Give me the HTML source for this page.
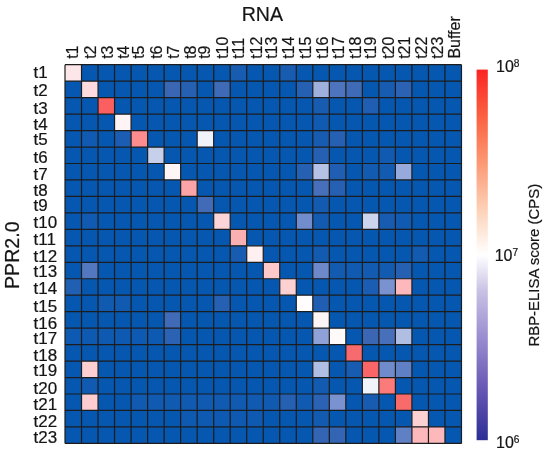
<!DOCTYPE html>
<html><head><meta charset="utf-8"><style>
html,body{margin:0;padding:0;background:#fff;width:550px;height:455px;overflow:hidden}
svg{display:block}
text{font-family:"Liberation Sans",Arial,Helvetica,sans-serif;fill:#151515;stroke:#151515;stroke-width:0.2px}
</style></head><body>
<svg width="550" height="455" viewBox="0 0 550 455">
<defs>
<linearGradient id="cb" x1="0" y1="1" x2="0" y2="0">
<stop offset="0" stop-color="#2c2e95"/>
<stop offset="0.15" stop-color="#6c5cb6"/>
<stop offset="0.28" stop-color="#9c8ed0"/>
<stop offset="0.4" stop-color="#c8c0e4"/>
<stop offset="0.5" stop-color="#ffffff"/>
<stop offset="0.62" stop-color="#fdd2b8"/>
<stop offset="0.74" stop-color="#fc9c78"/>
<stop offset="0.87" stop-color="#fb6242"/>
<stop offset="1" stop-color="#fb2424"/>
</linearGradient>
</defs>

<rect x="65.0" y="64.7" width="396.48" height="378.69" fill="#0657b0"/>
<rect x="230.20" y="64.70" width="16.52" height="16.46" fill="#175cb1"/>
<rect x="279.76" y="64.70" width="16.52" height="16.46" fill="#175cb1"/>
<rect x="65.00" y="64.70" width="16.52" height="16.46" fill="#fde6e9"/>
<rect x="164.12" y="81.17" width="16.52" height="16.46" fill="#3a66b4"/>
<rect x="180.64" y="81.17" width="16.52" height="16.46" fill="#2560b2"/>
<rect x="213.68" y="81.17" width="16.52" height="16.46" fill="#3f6ab6"/>
<rect x="296.28" y="81.17" width="16.52" height="16.46" fill="#2560b2"/>
<rect x="312.80" y="81.17" width="16.52" height="16.46" fill="#9fb0dd"/>
<rect x="329.32" y="81.17" width="16.52" height="16.46" fill="#4e74bd"/>
<rect x="345.84" y="81.17" width="16.52" height="16.46" fill="#3f6ab6"/>
<rect x="378.88" y="81.17" width="16.52" height="16.46" fill="#175cb1"/>
<rect x="395.40" y="81.17" width="16.52" height="16.46" fill="#2b62b3"/>
<rect x="81.52" y="81.17" width="16.52" height="16.46" fill="#fddadd"/>
<rect x="312.80" y="97.63" width="16.52" height="16.46" fill="#175cb1"/>
<rect x="362.36" y="97.63" width="16.52" height="16.46" fill="#1f5eb2"/>
<rect x="98.04" y="97.63" width="16.52" height="16.46" fill="#fc5f5f"/>
<rect x="312.80" y="114.09" width="16.52" height="16.46" fill="#105ab1"/>
<rect x="114.56" y="114.09" width="16.52" height="16.46" fill="#fef3f5"/>
<rect x="81.52" y="130.56" width="16.52" height="16.46" fill="#105ab1"/>
<rect x="114.56" y="130.56" width="16.52" height="16.46" fill="#1b5db2"/>
<rect x="197.16" y="130.56" width="16.52" height="16.46" fill="#f1f3fa"/>
<rect x="312.80" y="130.56" width="16.52" height="16.46" fill="#175cb1"/>
<rect x="329.32" y="130.56" width="16.52" height="16.46" fill="#2560b2"/>
<rect x="131.08" y="130.56" width="16.52" height="16.46" fill="#fc8c8e"/>
<rect x="147.60" y="147.03" width="16.52" height="16.46" fill="#c6d0eb"/>
<rect x="312.80" y="147.03" width="16.52" height="16.46" fill="#2560b2"/>
<rect x="378.88" y="147.03" width="16.52" height="16.46" fill="#105ab1"/>
<rect x="296.28" y="163.49" width="16.52" height="16.46" fill="#2560b2"/>
<rect x="312.80" y="163.49" width="16.52" height="16.46" fill="#b6c2e5"/>
<rect x="329.32" y="163.49" width="16.52" height="16.46" fill="#1f5eb2"/>
<rect x="362.36" y="163.49" width="16.52" height="16.46" fill="#125bb1"/>
<rect x="378.88" y="163.49" width="16.52" height="16.46" fill="#125bb1"/>
<rect x="395.40" y="163.49" width="16.52" height="16.46" fill="#98aadb"/>
<rect x="164.12" y="163.49" width="16.52" height="16.46" fill="#fef5f7"/>
<rect x="312.80" y="179.95" width="16.52" height="16.46" fill="#476fba"/>
<rect x="329.32" y="179.95" width="16.52" height="16.46" fill="#2560b2"/>
<rect x="180.64" y="179.95" width="16.52" height="16.46" fill="#fca5a8"/>
<rect x="197.16" y="196.42" width="16.52" height="16.46" fill="#426bb7"/>
<rect x="312.80" y="196.42" width="16.52" height="16.46" fill="#125bb1"/>
<rect x="81.52" y="212.88" width="16.52" height="16.46" fill="#105ab1"/>
<rect x="296.28" y="212.88" width="16.52" height="16.46" fill="#728dcd"/>
<rect x="312.80" y="212.88" width="16.52" height="16.46" fill="#125bb1"/>
<rect x="362.36" y="212.88" width="16.52" height="16.46" fill="#ccd5ed"/>
<rect x="378.88" y="212.88" width="16.52" height="16.46" fill="#175cb1"/>
<rect x="395.40" y="212.88" width="16.52" height="16.46" fill="#105ab1"/>
<rect x="213.68" y="212.88" width="16.52" height="16.46" fill="#fdd5d8"/>
<rect x="230.20" y="229.35" width="16.52" height="16.46" fill="#f9b0b0"/>
<rect x="230.20" y="245.81" width="16.52" height="16.46" fill="#175cb1"/>
<rect x="312.80" y="245.81" width="16.52" height="16.46" fill="#125bb1"/>
<rect x="411.92" y="245.81" width="16.52" height="16.46" fill="#125bb1"/>
<rect x="246.72" y="245.81" width="16.52" height="16.46" fill="#fef0f0"/>
<rect x="81.52" y="262.28" width="16.52" height="16.46" fill="#5478bf"/>
<rect x="312.80" y="262.28" width="16.52" height="16.46" fill="#6d89ca"/>
<rect x="395.40" y="262.28" width="16.52" height="16.46" fill="#2560b2"/>
<rect x="329.32" y="262.28" width="16.52" height="16.46" fill="#125bb1"/>
<rect x="345.84" y="262.28" width="16.52" height="16.46" fill="#105ab1"/>
<rect x="362.36" y="262.28" width="16.52" height="16.46" fill="#125bb1"/>
<rect x="378.88" y="262.28" width="16.52" height="16.46" fill="#125bb1"/>
<rect x="263.24" y="262.28" width="16.52" height="16.46" fill="#fdc8ca"/>
<rect x="65.00" y="278.75" width="16.52" height="16.46" fill="#215fb2"/>
<rect x="378.88" y="278.75" width="16.52" height="16.46" fill="#7a92d0"/>
<rect x="362.36" y="278.75" width="16.52" height="16.46" fill="#1b5db2"/>
<rect x="279.76" y="278.75" width="16.52" height="16.46" fill="#fdd0d2"/>
<rect x="395.40" y="278.75" width="16.52" height="16.46" fill="#fdb8bc"/>
<rect x="98.04" y="295.21" width="16.52" height="16.46" fill="#105ab1"/>
<rect x="114.56" y="295.21" width="16.52" height="16.46" fill="#105ab1"/>
<rect x="213.68" y="295.21" width="16.52" height="16.46" fill="#2560b2"/>
<rect x="312.80" y="295.21" width="16.52" height="16.46" fill="#1f5eb2"/>
<rect x="296.28" y="295.21" width="16.52" height="16.46" fill="#fefcfc"/>
<rect x="164.12" y="311.68" width="16.52" height="16.46" fill="#426bb7"/>
<rect x="312.80" y="311.68" width="16.52" height="16.46" fill="#fdf5f5"/>
<rect x="65.00" y="328.14" width="16.52" height="16.46" fill="#0e59b1"/>
<rect x="81.52" y="328.14" width="16.52" height="16.46" fill="#0e59b1"/>
<rect x="98.04" y="328.14" width="16.52" height="16.46" fill="#0e59b1"/>
<rect x="114.56" y="328.14" width="16.52" height="16.46" fill="#0e59b1"/>
<rect x="131.08" y="328.14" width="16.52" height="16.46" fill="#0e59b1"/>
<rect x="147.60" y="328.14" width="16.52" height="16.46" fill="#0e59b1"/>
<rect x="164.12" y="328.14" width="16.52" height="16.46" fill="#2b62b3"/>
<rect x="312.80" y="328.14" width="16.52" height="16.46" fill="#8ea2d7"/>
<rect x="362.36" y="328.14" width="16.52" height="16.46" fill="#3a66b4"/>
<rect x="378.88" y="328.14" width="16.52" height="16.46" fill="#476fba"/>
<rect x="395.40" y="328.14" width="16.52" height="16.46" fill="#b1bee3"/>
<rect x="329.32" y="328.14" width="16.52" height="16.46" fill="#fefafa"/>
<rect x="345.84" y="344.60" width="16.52" height="16.46" fill="#f76b6e"/>
<rect x="312.80" y="361.07" width="16.52" height="16.46" fill="#b1bee3"/>
<rect x="378.88" y="361.07" width="16.52" height="16.46" fill="#708bcc"/>
<rect x="395.40" y="361.07" width="16.52" height="16.46" fill="#6080c5"/>
<rect x="345.84" y="361.07" width="16.52" height="16.46" fill="#175cb1"/>
<rect x="81.52" y="361.07" width="16.52" height="16.46" fill="#fdcfd0"/>
<rect x="362.36" y="361.07" width="16.52" height="16.46" fill="#fa6668"/>
<rect x="362.36" y="377.53" width="16.52" height="16.46" fill="#f1f3fa"/>
<rect x="312.80" y="377.53" width="16.52" height="16.46" fill="#125bb1"/>
<rect x="81.52" y="377.53" width="16.52" height="16.46" fill="#105ab1"/>
<rect x="378.88" y="377.53" width="16.52" height="16.46" fill="#fb7a7a"/>
<rect x="131.08" y="394.00" width="16.52" height="16.46" fill="#105ab1"/>
<rect x="147.60" y="394.00" width="16.52" height="16.46" fill="#105ab1"/>
<rect x="164.12" y="394.00" width="16.52" height="16.46" fill="#105ab1"/>
<rect x="180.64" y="394.00" width="16.52" height="16.46" fill="#105ab1"/>
<rect x="197.16" y="394.00" width="16.52" height="16.46" fill="#105ab1"/>
<rect x="213.68" y="394.00" width="16.52" height="16.46" fill="#105ab1"/>
<rect x="230.20" y="394.00" width="16.52" height="16.46" fill="#105ab1"/>
<rect x="246.72" y="394.00" width="16.52" height="16.46" fill="#105ab1"/>
<rect x="263.24" y="394.00" width="16.52" height="16.46" fill="#105ab1"/>
<rect x="279.76" y="394.00" width="16.52" height="16.46" fill="#2560b2"/>
<rect x="296.28" y="394.00" width="16.52" height="16.46" fill="#105ab1"/>
<rect x="312.80" y="394.00" width="16.52" height="16.46" fill="#2b62b3"/>
<rect x="329.32" y="394.00" width="16.52" height="16.46" fill="#7a92d0"/>
<rect x="362.36" y="394.00" width="16.52" height="16.46" fill="#175cb1"/>
<rect x="81.52" y="394.00" width="16.52" height="16.46" fill="#fdcdd0"/>
<rect x="395.40" y="394.00" width="16.52" height="16.46" fill="#f96a6a"/>
<rect x="180.64" y="410.46" width="16.52" height="16.46" fill="#0e59b1"/>
<rect x="197.16" y="410.46" width="16.52" height="16.46" fill="#0e59b1"/>
<rect x="213.68" y="410.46" width="16.52" height="16.46" fill="#0e59b1"/>
<rect x="230.20" y="410.46" width="16.52" height="16.46" fill="#0e59b1"/>
<rect x="246.72" y="410.46" width="16.52" height="16.46" fill="#0e59b1"/>
<rect x="312.80" y="410.46" width="16.52" height="16.46" fill="#125bb1"/>
<rect x="411.92" y="410.46" width="16.52" height="16.46" fill="#fdd0d2"/>
<rect x="312.80" y="426.93" width="16.52" height="16.46" fill="#3464b4"/>
<rect x="329.32" y="426.93" width="16.52" height="16.46" fill="#3464b4"/>
<rect x="395.40" y="426.93" width="16.52" height="16.46" fill="#6080c5"/>
<rect x="411.92" y="426.93" width="16.52" height="16.46" fill="#fdb8bc"/>
<rect x="428.44" y="426.93" width="16.52" height="16.46" fill="#fdb8bc"/>
<line x1="65.00" y1="64.7" x2="65.00" y2="443.39" stroke="#1c1c1c" stroke-width="1.2"/>
<line x1="81.52" y1="64.7" x2="81.52" y2="443.39" stroke="#1c1c1c" stroke-width="1.2"/>
<line x1="98.04" y1="64.7" x2="98.04" y2="443.39" stroke="#1c1c1c" stroke-width="1.2"/>
<line x1="114.56" y1="64.7" x2="114.56" y2="443.39" stroke="#1c1c1c" stroke-width="1.2"/>
<line x1="131.08" y1="64.7" x2="131.08" y2="443.39" stroke="#1c1c1c" stroke-width="1.2"/>
<line x1="147.60" y1="64.7" x2="147.60" y2="443.39" stroke="#1c1c1c" stroke-width="1.2"/>
<line x1="164.12" y1="64.7" x2="164.12" y2="443.39" stroke="#1c1c1c" stroke-width="1.2"/>
<line x1="180.64" y1="64.7" x2="180.64" y2="443.39" stroke="#1c1c1c" stroke-width="1.2"/>
<line x1="197.16" y1="64.7" x2="197.16" y2="443.39" stroke="#1c1c1c" stroke-width="1.2"/>
<line x1="213.68" y1="64.7" x2="213.68" y2="443.39" stroke="#1c1c1c" stroke-width="1.2"/>
<line x1="230.20" y1="64.7" x2="230.20" y2="443.39" stroke="#1c1c1c" stroke-width="1.2"/>
<line x1="246.72" y1="64.7" x2="246.72" y2="443.39" stroke="#1c1c1c" stroke-width="1.2"/>
<line x1="263.24" y1="64.7" x2="263.24" y2="443.39" stroke="#1c1c1c" stroke-width="1.2"/>
<line x1="279.76" y1="64.7" x2="279.76" y2="443.39" stroke="#1c1c1c" stroke-width="1.2"/>
<line x1="296.28" y1="64.7" x2="296.28" y2="443.39" stroke="#1c1c1c" stroke-width="1.2"/>
<line x1="312.80" y1="64.7" x2="312.80" y2="443.39" stroke="#1c1c1c" stroke-width="1.2"/>
<line x1="329.32" y1="64.7" x2="329.32" y2="443.39" stroke="#1c1c1c" stroke-width="1.2"/>
<line x1="345.84" y1="64.7" x2="345.84" y2="443.39" stroke="#1c1c1c" stroke-width="1.2"/>
<line x1="362.36" y1="64.7" x2="362.36" y2="443.39" stroke="#1c1c1c" stroke-width="1.2"/>
<line x1="378.88" y1="64.7" x2="378.88" y2="443.39" stroke="#1c1c1c" stroke-width="1.2"/>
<line x1="395.40" y1="64.7" x2="395.40" y2="443.39" stroke="#1c1c1c" stroke-width="1.2"/>
<line x1="411.92" y1="64.7" x2="411.92" y2="443.39" stroke="#1c1c1c" stroke-width="1.2"/>
<line x1="428.44" y1="64.7" x2="428.44" y2="443.39" stroke="#1c1c1c" stroke-width="1.2"/>
<line x1="444.96" y1="64.7" x2="444.96" y2="443.39" stroke="#1c1c1c" stroke-width="1.2"/>
<line x1="461.48" y1="64.7" x2="461.48" y2="443.39" stroke="#1c1c1c" stroke-width="1.2"/>
<line x1="65.0" y1="64.70" x2="461.48" y2="64.70" stroke="#1c1c1c" stroke-width="1.2"/>
<line x1="65.0" y1="81.17" x2="461.48" y2="81.17" stroke="#1c1c1c" stroke-width="1.2"/>
<line x1="65.0" y1="97.63" x2="461.48" y2="97.63" stroke="#1c1c1c" stroke-width="1.2"/>
<line x1="65.0" y1="114.09" x2="461.48" y2="114.09" stroke="#1c1c1c" stroke-width="1.2"/>
<line x1="65.0" y1="130.56" x2="461.48" y2="130.56" stroke="#1c1c1c" stroke-width="1.2"/>
<line x1="65.0" y1="147.03" x2="461.48" y2="147.03" stroke="#1c1c1c" stroke-width="1.2"/>
<line x1="65.0" y1="163.49" x2="461.48" y2="163.49" stroke="#1c1c1c" stroke-width="1.2"/>
<line x1="65.0" y1="179.95" x2="461.48" y2="179.95" stroke="#1c1c1c" stroke-width="1.2"/>
<line x1="65.0" y1="196.42" x2="461.48" y2="196.42" stroke="#1c1c1c" stroke-width="1.2"/>
<line x1="65.0" y1="212.88" x2="461.48" y2="212.88" stroke="#1c1c1c" stroke-width="1.2"/>
<line x1="65.0" y1="229.35" x2="461.48" y2="229.35" stroke="#1c1c1c" stroke-width="1.2"/>
<line x1="65.0" y1="245.81" x2="461.48" y2="245.81" stroke="#1c1c1c" stroke-width="1.2"/>
<line x1="65.0" y1="262.28" x2="461.48" y2="262.28" stroke="#1c1c1c" stroke-width="1.2"/>
<line x1="65.0" y1="278.75" x2="461.48" y2="278.75" stroke="#1c1c1c" stroke-width="1.2"/>
<line x1="65.0" y1="295.21" x2="461.48" y2="295.21" stroke="#1c1c1c" stroke-width="1.2"/>
<line x1="65.0" y1="311.68" x2="461.48" y2="311.68" stroke="#1c1c1c" stroke-width="1.2"/>
<line x1="65.0" y1="328.14" x2="461.48" y2="328.14" stroke="#1c1c1c" stroke-width="1.2"/>
<line x1="65.0" y1="344.60" x2="461.48" y2="344.60" stroke="#1c1c1c" stroke-width="1.2"/>
<line x1="65.0" y1="361.07" x2="461.48" y2="361.07" stroke="#1c1c1c" stroke-width="1.2"/>
<line x1="65.0" y1="377.53" x2="461.48" y2="377.53" stroke="#1c1c1c" stroke-width="1.2"/>
<line x1="65.0" y1="394.00" x2="461.48" y2="394.00" stroke="#1c1c1c" stroke-width="1.2"/>
<line x1="65.0" y1="410.46" x2="461.48" y2="410.46" stroke="#1c1c1c" stroke-width="1.2"/>
<line x1="65.0" y1="426.93" x2="461.48" y2="426.93" stroke="#1c1c1c" stroke-width="1.2"/>
<line x1="65.0" y1="443.39" x2="461.48" y2="443.39" stroke="#1c1c1c" stroke-width="1.2"/>
<text x="241.7" y="20.8" font-size="19.6">RNA</text>
<text transform="translate(77.8,58.8) rotate(-90) scale(0.995,1)" font-size="16">t1</text>
<text transform="translate(95.5,58.8) rotate(-90) scale(0.995,1)" font-size="16">t2</text>
<text transform="translate(112.6,58.8) rotate(-90) scale(0.995,1)" font-size="16">t3</text>
<text transform="translate(129.0,58.8) rotate(-90) scale(0.995,1)" font-size="16">t4</text>
<text transform="translate(144.4,58.8) rotate(-90) scale(0.995,1)" font-size="16">t5</text>
<text transform="translate(161.5,58.8) rotate(-90) scale(0.995,1)" font-size="16">t6</text>
<text transform="translate(178.8,58.8) rotate(-90) scale(0.995,1)" font-size="16">t7</text>
<text transform="translate(195.5,58.8) rotate(-90) scale(0.995,1)" font-size="16">t8</text>
<text transform="translate(209.7,58.8) rotate(-90) scale(0.995,1)" font-size="16">t9</text>
<text transform="translate(227.5,58.8) rotate(-90) scale(0.995,1)" font-size="16">t10</text>
<text transform="translate(244.4,58.8) rotate(-90) scale(0.995,1)" font-size="16">t11</text>
<text transform="translate(261.5,58.8) rotate(-90) scale(0.995,1)" font-size="16">t12</text>
<text transform="translate(276.8,58.8) rotate(-90) scale(0.995,1)" font-size="16">t13</text>
<text transform="translate(293.5,58.8) rotate(-90) scale(0.995,1)" font-size="16">t14</text>
<text transform="translate(311.1,58.8) rotate(-90) scale(0.995,1)" font-size="16">t15</text>
<text transform="translate(327.5,58.8) rotate(-90) scale(0.995,1)" font-size="16">t16</text>
<text transform="translate(343.7,58.8) rotate(-90) scale(0.995,1)" font-size="16">t17</text>
<text transform="translate(360.8,58.8) rotate(-90) scale(0.995,1)" font-size="16">t18</text>
<text transform="translate(375.7,58.8) rotate(-90) scale(0.995,1)" font-size="16">t19</text>
<text transform="translate(393.5,58.8) rotate(-90) scale(0.995,1)" font-size="16">t20</text>
<text transform="translate(410.4,58.8) rotate(-90) scale(0.995,1)" font-size="16">t21</text>
<text transform="translate(427.1,58.8) rotate(-90) scale(0.995,1)" font-size="16">t22</text>
<text transform="translate(443.0,58.8) rotate(-90) scale(0.995,1)" font-size="16">t23</text>
<text transform="translate(460.2,58.6) rotate(-90) scale(0.94,1)" font-size="17">Buffer</text>
<text transform="translate(33.6,77.8) scale(1.09,1)" font-size="15.6">t1</text>
<text transform="translate(33.6,96.0) scale(1.09,1)" font-size="15.6">t2</text>
<text transform="translate(33.6,114.0) scale(1.09,1)" font-size="15.6">t3</text>
<text transform="translate(33.6,130.2) scale(1.09,1)" font-size="15.6">t4</text>
<text transform="translate(33.6,145.1) scale(1.09,1)" font-size="15.6">t5</text>
<text transform="translate(33.6,162.9) scale(1.09,1)" font-size="15.6">t6</text>
<text transform="translate(33.6,179.7) scale(1.09,1)" font-size="15.6">t7</text>
<text transform="translate(33.6,196.4) scale(1.09,1)" font-size="15.6">t8</text>
<text transform="translate(33.6,210.5) scale(1.09,1)" font-size="15.6">t9</text>
<text transform="translate(33.6,228.1) scale(1.09,1)" font-size="15.6">t10</text>
<text transform="translate(33.6,245.0) scale(1.09,1)" font-size="15.6">t11</text>
<text transform="translate(33.6,261.5) scale(1.09,1)" font-size="15.6">t12</text>
<text transform="translate(33.6,277.2) scale(1.09,1)" font-size="15.6">t13</text>
<text transform="translate(33.6,294.1) scale(1.09,1)" font-size="15.6">t14</text>
<text transform="translate(33.6,311.9) scale(1.09,1)" font-size="15.6">t15</text>
<text transform="translate(33.6,328.6) scale(1.09,1)" font-size="15.6">t16</text>
<text transform="translate(33.6,344.3) scale(1.09,1)" font-size="15.6">t17</text>
<text transform="translate(33.6,361.3) scale(1.09,1)" font-size="15.6">t18</text>
<text transform="translate(33.6,376.1) scale(1.09,1)" font-size="15.6">t19</text>
<text transform="translate(33.6,394.1) scale(1.09,1)" font-size="15.6">t20</text>
<text transform="translate(33.6,410.4) scale(1.09,1)" font-size="15.6">t21</text>
<text transform="translate(33.6,426.9) scale(1.09,1)" font-size="15.6">t22</text>
<text transform="translate(33.6,443.0) scale(1.09,1)" font-size="15.6">t23</text>
<text transform="translate(19,289) rotate(-90)" font-size="19.6">PPR2.0</text>
<rect x="476.6" y="69.6" width="11.2" height="370.6" fill="url(#cb)"/>
<text x="496" y="72.2" font-size="16">10<tspan font-size="10.2" dy="-5.6">8</tspan></text>
<text x="494.7" y="261.3" font-size="16">10<tspan font-size="10.2" dy="-5.6">7</tspan></text>
<text x="496" y="448.3" font-size="16">10<tspan font-size="10.2" dy="-5.6">6</tspan></text>
<text transform="translate(539.2,346.6) rotate(-90)" font-size="14.95">RBP-ELISA score (CPS)</text>
</svg></body></html>
